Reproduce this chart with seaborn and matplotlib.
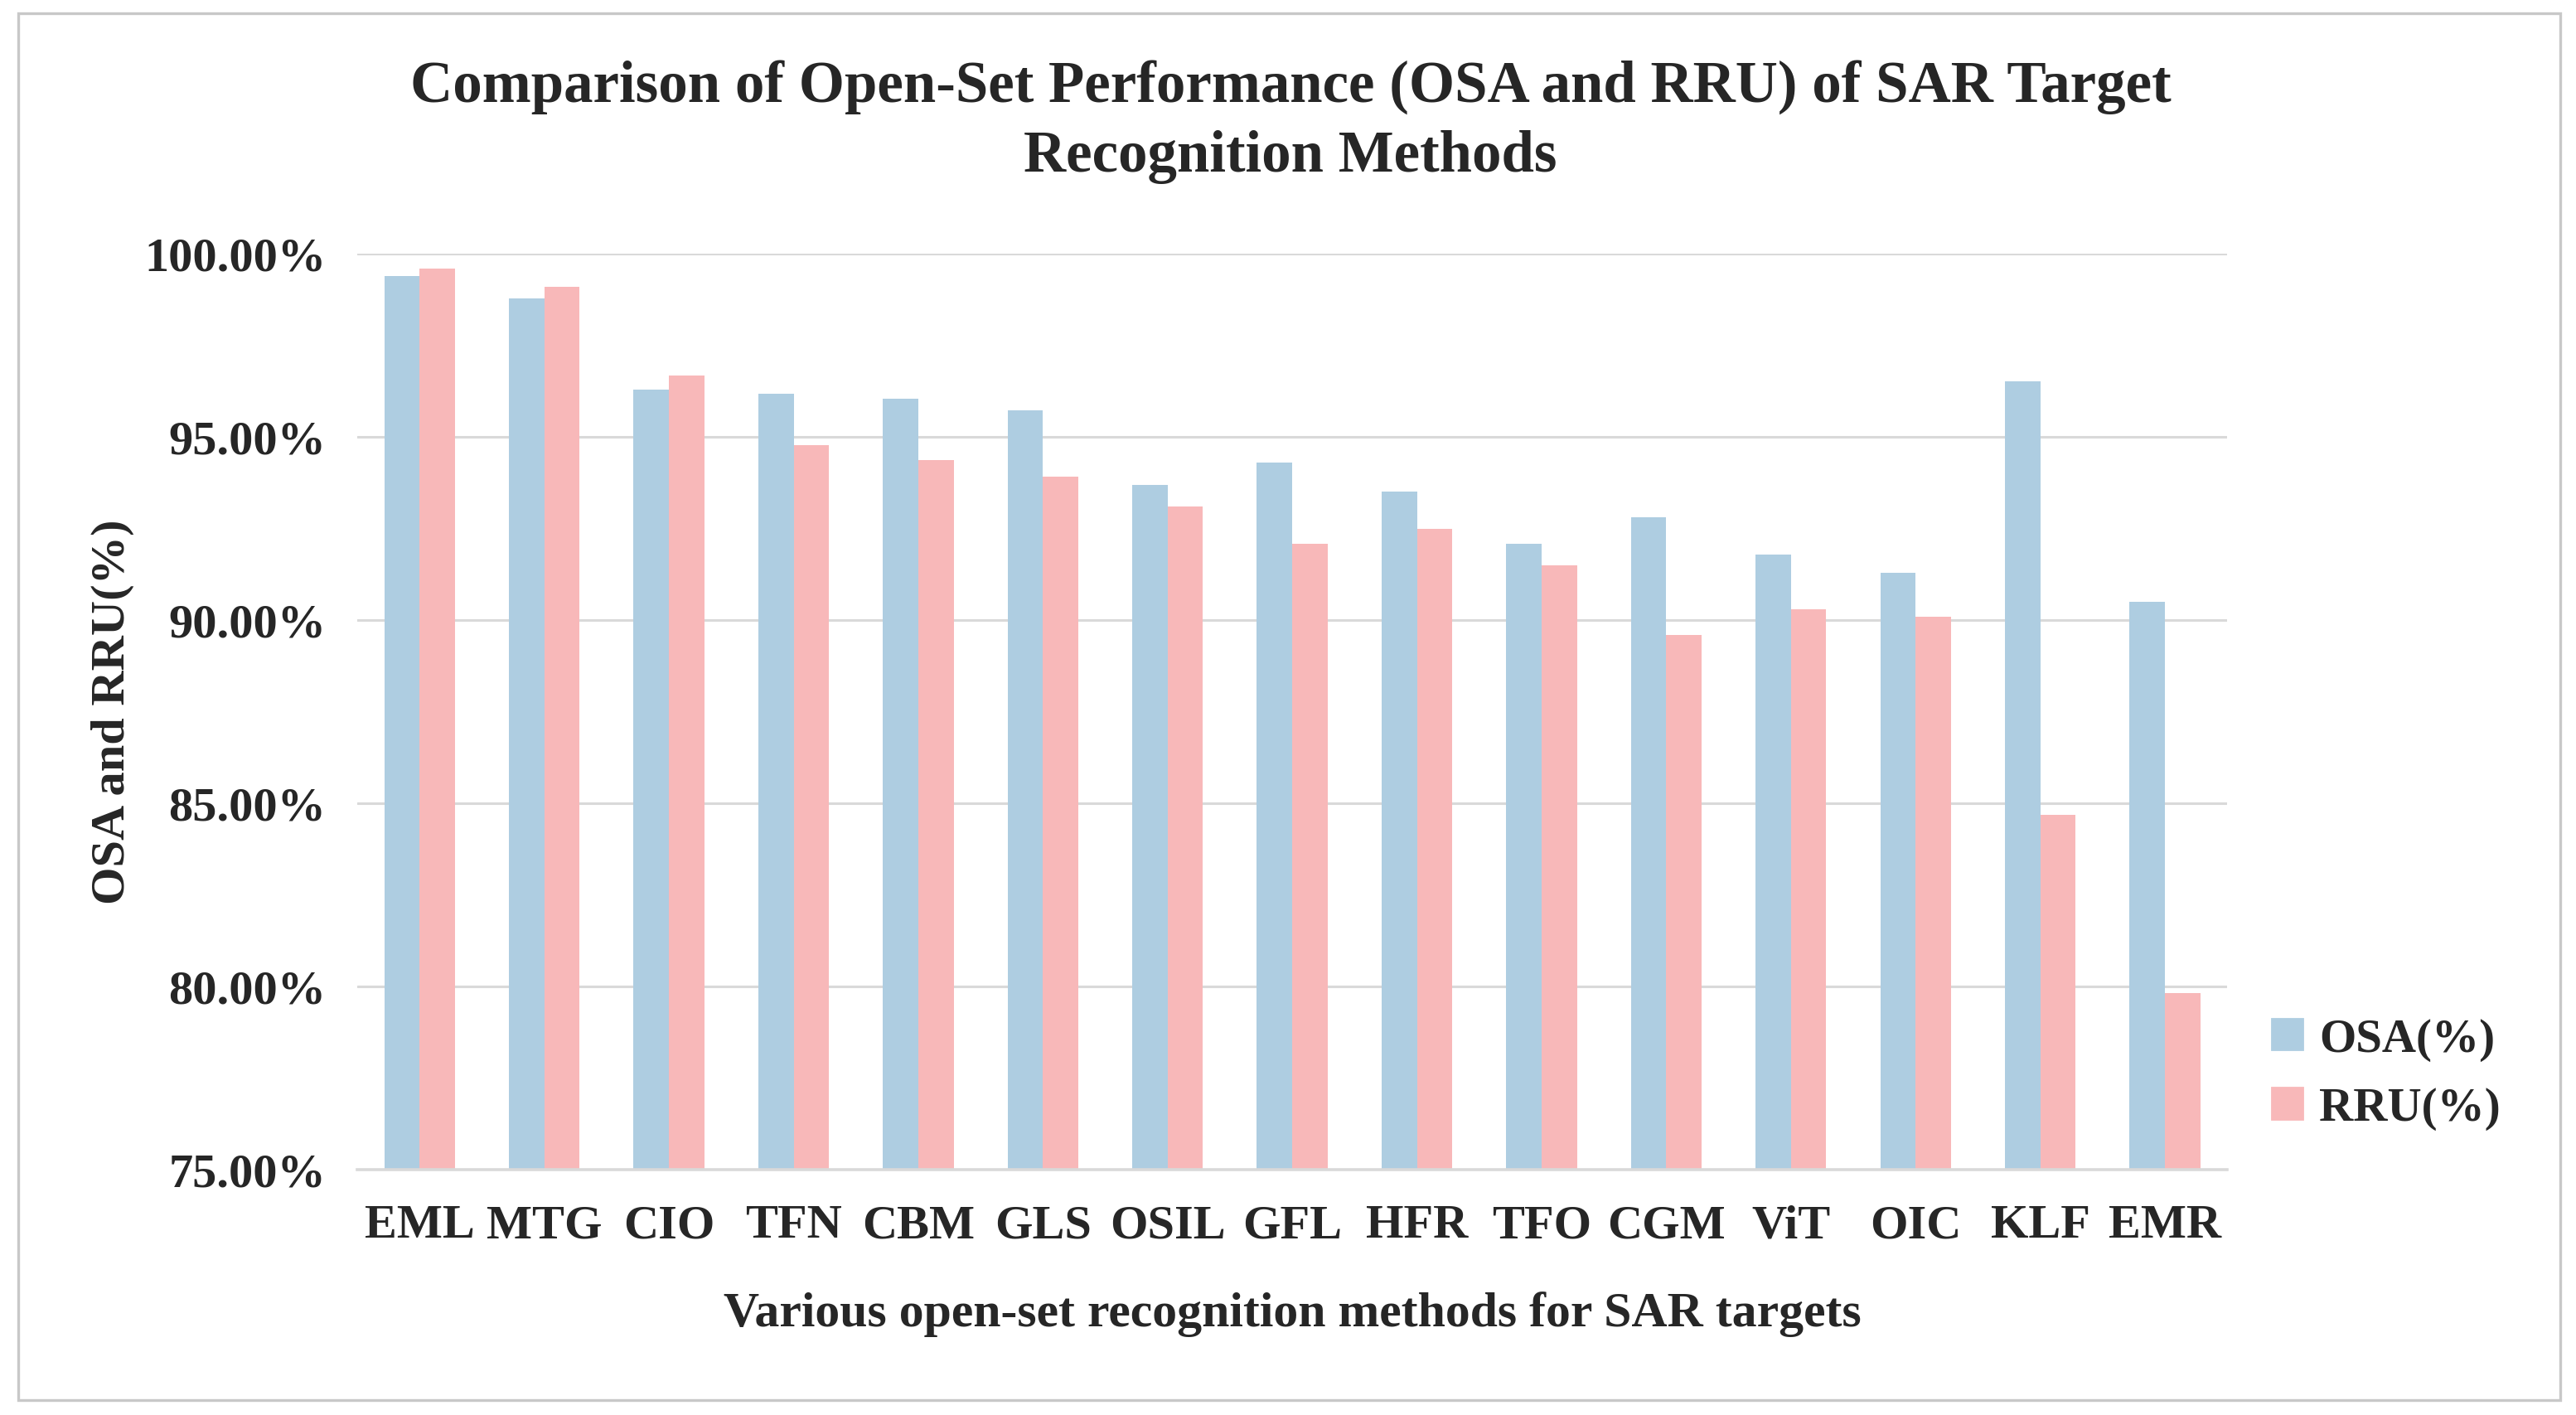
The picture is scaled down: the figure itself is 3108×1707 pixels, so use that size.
import seaborn as sns
import matplotlib.pyplot as plt
import matplotlib.ticker as mticker
from matplotlib.patches import Rectangle
import pandas as pd

# Data
methods = ["EML", "MTG", "CIO", "TFN", "CBM", "GLS", "OSIL", "GFL",
           "HFR", "TFO", "CGM", "ViT", "OIC", "KLF", "EMR"]
osa = [99.38, 98.77, 96.28, 96.17, 96.04, 95.72, 93.68, 94.29,
       93.49, 92.07, 92.80, 91.78, 91.27, 96.50, 90.48]
rru = [99.58, 99.08, 96.66, 94.77, 94.36, 93.91, 93.09, 92.07,
       92.49, 91.48, 89.58, 90.29, 90.08, 84.68, 79.80]
series_names = ["OSA(%)", "RRU(%)"]
colors = ["#AECDE1", "#F8B8B9"]
title_lines = ["Comparison of Open-Set Performance (OSA and RRU) of SAR Target",
               "Recognition Methods"]

df = pd.DataFrame({"method": methods, series_names[0]: osa, series_names[1]: rru})
long_df = df.melt(id_vars="method", var_name="metric", value_name="value")

sns.set_style("white")
plt.rcParams["font.family"] = ["Liberation Serif", "DejaVu Serif"]
plt.rcParams["font.weight"] = "bold"

fig = plt.figure(figsize=(15.54, 8.54), dpi=200)
ax = fig.add_axes([0.1387, 0.1735, 0.7259, 0.647])

sns.barplot(data=long_df, x="method", y="value", hue="metric",
            palette=dict(zip(series_names, colors)), width=0.567,
            linewidth=0, saturation=1, ax=ax)

ax.set_ylim(75, 100)
ax.set_xlim(-0.5, len(methods) - 0.5)
ax.yaxis.set_major_locator(mticker.MultipleLocator(5))
ax.yaxis.set_major_formatter(mticker.FuncFormatter(lambda v, p: f"{v:.2f}%"))
ax.grid(axis="y", color="#D9D9D9", linewidth=1.1)
ax.set_axisbelow(True)

for s in ["left", "right", "top"]:
    ax.spines[s].set_visible(False)
ax.spines["bottom"].set_color("#D9D9D9")
ax.spines["bottom"].set_linewidth(1.3)

# ticks between categories, labels centered
ax.set_xticks([i + 0.5 for i in range(-1, len(methods))], minor=True)
ax.tick_params(axis="x", which="minor", length=8, width=1.3, color="#D9D9D9", direction="out")
ax.tick_params(axis="x", which="major", length=0, pad=15, labelsize=21)
ax.tick_params(axis="y", length=0, pad=13.5, labelsize=21)

ax.set_xlabel("Various open-set recognition methods for SAR targets",
              fontsize=21.5, fontweight="bold")
ax.xaxis.label.set_va("baseline")
ax.xaxis.set_label_coords(0.5, -0.1706)
ax.set_ylabel("OSA and RRU(%)", fontsize=21, fontweight="bold")
ax.yaxis.label.set_va("baseline")
ax.yaxis.set_label_coords(-0.1246, 0.5)

fig.text(0.501, 0.928, title_lines[0], ha="center", va="baseline",
         fontsize=25.5, fontweight="bold")
fig.text(0.501, 0.8788, title_lines[1], ha="center", va="baseline",
         fontsize=25.5, fontweight="bold")

ax.legend_.remove()
handles = [Rectangle((0, 0), 1, 1, color=c) for c in colors]
fig.legend(handles, series_names, loc="center left", bbox_to_anchor=(0.882, 0.241),
           frameon=False, borderaxespad=0, borderpad=0,
           handlelength=0.64, handleheight=0.64, handletextpad=0.36, labelspacing=0.55,
           prop={"weight": "bold", "size": 20.5})

# outer chart border
fig.patches.append(Rectangle((22 / 3108, 1 - 1690 / 1708), (3089 - 22) / 3108, (1690 - 17) / 1708,
                             transform=fig.transFigure, fill=False,
                             edgecolor="#C8C8C8", linewidth=1.2))

fig.savefig("out.png", dpi=200)
plt.close(fig)
